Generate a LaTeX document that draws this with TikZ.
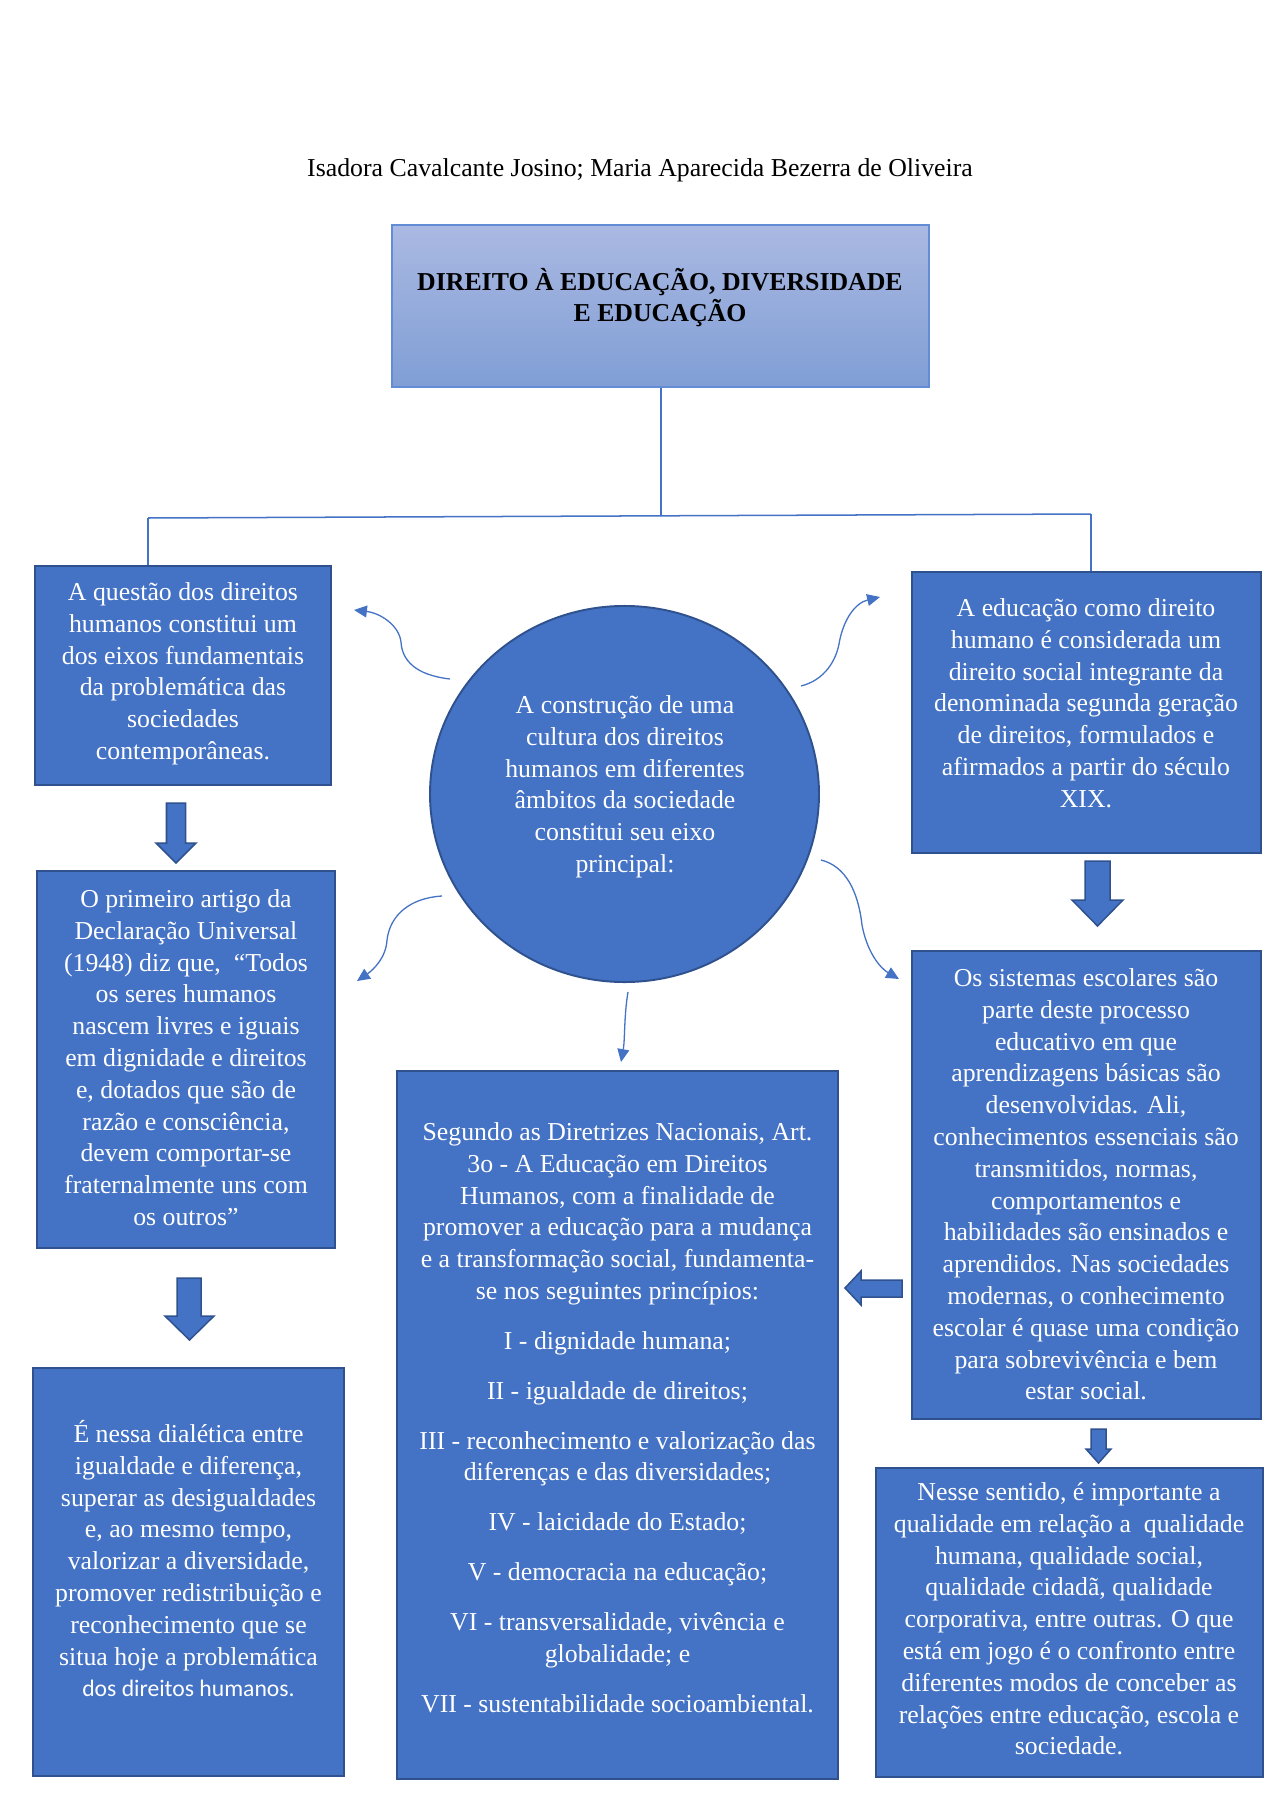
\documentclass[tikz,border=0pt]{standalone}
\usepackage{fontspec}
\setmainfont{Liberation Serif}
\newfontfamily\carlito{Carlito}
\usetikzlibrary{arrows.meta,shapes.geometric,fit}
\definecolor{mainblue}{RGB}{68,114,196}
\definecolor{edgeblue}{RGB}{47,82,143}
\definecolor{topa}{RGB}{170,185,226}
\definecolor{topb}{RGB}{128,158,213}
\definecolor{topedge}{RGB}{98,140,214}
\newcommand\tstrut{\rule{0pt}{12pt}}
\begin{document}
\begin{tikzpicture}[x=0.46506pt,y=-0.46506pt,
  box/.style={draw=edgeblue, fill=mainblue, line width=0.9pt, inner sep=0pt},
  txt/.style={text=white, align=center, inner sep=0pt, anchor=north, font=\fontsize{12}{14.79}\selectfont},
  link/.style={draw=mainblue, line width=0.7pt},
  curly/.style={draw=mainblue, line width=0.6pt, -{Triangle[length=6pt,width=5.5pt]}},
  blockarrow/.style={draw=edgeblue, fill=mainblue, line width=0.7pt, line join=miter}]
\fill[white] (0,0) rectangle (1280,1811);
\useasboundingbox (0,0) rectangle (1280,1811);

% title
\node[anchor=base, inner sep=0pt, font=\fontsize{12}{14}\selectfont] (title) at (640,177) {Isadora Cavalcante Josino; Maria Aparecida Bezerra de Oliveira};

% top box
\node[draw=topedge, line width=0.9pt, top color=topa, bottom color=topb, inner sep=0pt, fit={(392,225) (929,387)}] (T) {};
\node[anchor=north, align=center, inner sep=0pt, font=\bfseries\fontsize{12}{14.4}\selectfont] (Tt) at (660,264.2) {\tstrut DIREITO À EDUCAÇÃO, DIVERSIDADE\\E EDUCAÇÃO};

% boxes
\node[box, fit={(35,566) (331,785)}] (b1) {};
\node[box, fit={(37,871) (335,1248)}] (b2) {};
\node[box, fit={(33,1368) (344,1776)}] (b3) {};
\node[box, fit={(397,1071) (838,1779)}] (bc) {};
\node[box, fit={(912,572) (1261,853)}] (r1) {};
\node[box, fit={(912,951) (1261,1419)}] (r2) {};
\node[box, fit={(876,1468) (1263,1777)}] (r3) {};
\node[ellipse, draw=edgeblue, fill=mainblue, line width=0.9pt, inner sep=0pt, minimum width=180.9pt, minimum height=174.9pt] (C) at (624.5,794) {};

% texts
\node[txt] (b1t) at (183,574.2) {\tstrut A questão dos direitos\\humanos constitui um\\dos eixos fundamentais\\da problemática das\\sociedades\\contemporâneas.};
\node[txt] (b2t) at (186,881.2) {\tstrut O primeiro artigo da\\Declaração Universal\\(1948) diz que,\ \ “Todos\\os seres humanos\\nascem livres e iguais\\em dignidade e direitos\\e, dotados que são de\\razão e consciência,\\devem comportar-se\\fraternalmente uns com\\os outros”};
\node[txt] (b3t) at (188.5,1416.2) {\tstrut É nessa dialética entre\\igualdade e diferença,\\superar as desigualdades\\e, ao mesmo tempo,\\valorizar a diversidade,\\promover redistribuição e\\reconhecimento que se\\situa hoje a problemática\\{\carlito\fontsize{11}{14.79}\selectfont dos direitos humanos.}};
\node[txt] (Ct) at (625,687.2) {\tstrut A construção de uma\\cultura dos direitos\\humanos em diferentes\\âmbitos da sociedade\\constitui seu eixo\\principal:};
\node[txt] (bct) at (617.5,1114.2) {\tstrut Segundo as Diretrizes Nacionais, Art.\\3o - A Educação em Direitos\\Humanos, com a finalidade de\\promover a educação para a mudança\\e a transformação social, fundamenta-\\se nos seguintes princípios:\\[8.4pt]I - dignidade humana;\\[8.4pt]II - igualdade de direitos;\\[8.4pt]III - reconhecimento e valorização das\\diferenças e das diversidades;\\[8.4pt]IV - laicidade do Estado;\\[8.4pt]V - democracia na educação;\\[8.4pt]VI - transversalidade, vivência e\\globalidade; e\\[8.4pt]VII - sustentabilidade socioambiental.};
\node[txt] (r1t) at (1086,590.2) {\tstrut A educação como direito\\humano é considerada um\\direito social integrante da\\denominada segunda geração\\de direitos, formulados e\\afirmados a partir do século\\XIX.};
\node[txt] (r2t) at (1086,960.2) {\tstrut Os sistemas escolares são\\parte deste processo\\educativo em que\\aprendizagens básicas são\\desenvolvidas. Ali,\\conhecimentos essenciais são\\transmitidos, normas,\\comportamentos e\\habilidades são ensinados e\\aprendidos. Nas sociedades\\modernas, o conhecimento\\escolar é quase uma condição\\para sobrevivência e bem\\estar social.};
\node[txt] (r3t) at (1069,1474.2) {\tstrut Nesse sentido, é importante a\\qualidade em relação a\ \ qualidade\\humana, qualidade social,\\qualidade cidadã, qualidade\\corporativa, entre outras. O que\\está em jogo é o confronto entre\\diferentes modos de conceber as\\relações entre educação, escola e\\sociedade.};

% tree connectors
\coordinate (J) at (661,516);
\coordinate (L) at (148,518);
\coordinate (R) at (1091,514);
\draw[link] (T.south -| J) -- (J);
\draw[link] (L) -- (R);
\draw[link] (L) -- (L |- b1.north);
\draw[link] (R) -- (R |- r1.north);

% curved arrows from the circle
\coordinate (ul0) at (450,679); \coordinate (ul1) at (354,610);
\coordinate (ur0) at (801,686); \coordinate (ur1) at (880,597);
\coordinate (ll0) at (442,896); \coordinate (ll1) at (357,981);
\coordinate (lr0) at (821,860); \coordinate (lr1) at (899,979);
\coordinate (bb0) at (628,992); \coordinate (bb1) at (621,1062);
\draw[curly] (ul0) .. controls (415,675) and (402,660) .. (401,642) .. controls (399,625) and (380,613) .. (ul1);
\draw[curly] (ur0) .. controls (825,680) and (836,660) .. (839,644) .. controls (843,620) and (855,603) .. (ur1);
\draw[curly] (ll0) .. controls (410,898) and (390,915) .. (387,940) .. controls (386,958) and (373,970) .. (ll1);
\draw[curly] (lr0) .. controls (845,866) and (858,890) .. (862,925) .. controls (867,952) and (880,968) .. (lr1);
\draw[curly] (bb0) .. controls (624,1015) and (625,1040) .. (bb1);

% block arrows
\draw[blockarrow] (166.5,803) -- (185.5,803) -- (185.5,843) -- (196,843) -- (176,863) -- (156,843) -- (166.5,843) -- cycle;
\draw[blockarrow] (177,1278) -- (201,1278) -- (201,1316) -- (214,1316) -- (189.5,1340) -- (165,1316) -- (177,1316) -- cycle;
\draw[blockarrow] (1085,861) -- (1110,861) -- (1110,900) -- (1123,900) -- (1097.5,926) -- (1072,900) -- (1085,900) -- cycle;
\draw[blockarrow] (1091,1429) -- (1106,1429) -- (1106,1449) -- (1111,1449) -- (1098.5,1463) -- (1086,1449) -- (1091,1449) -- cycle;
\draw[blockarrow] (902,1280) -- (902,1297) -- (861,1297) -- (861,1305) -- (845,1288) -- (861,1271) -- (861,1280) -- cycle;
\end{tikzpicture}
\end{document}
